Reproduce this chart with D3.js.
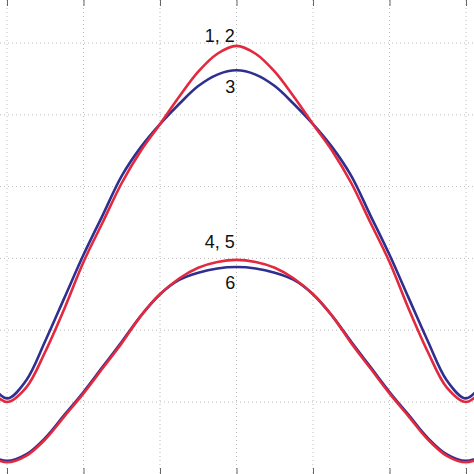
<!DOCTYPE html>
<html><head><meta charset="utf-8">
<script src="https://cdn.jsdelivr.net/npm/d3@7"></script>
<style>body{margin:0;background:#fff}</style>
</head><body>
<script>
// x positions of the read-off points (grid units)
var xs = [-0.25, 0, 0.25, 0.5, 0.75, 1, 1.25, 1.5, 1.75, 2, 2.25, 2.5, 2.75, 3,
          3.25, 3.5, 3.75, 4, 4.25, 4.5, 4.75, 5, 5.25, 5.5, 5.75, 6, 6.25];
var red12 = [0.2, 0, 0.2, 0.7, 1.3, 1.95, 2.5, 3.05, 3.5, 3.87, 4.25, 4.6, 4.85, 4.96,
             4.85, 4.6, 4.25, 3.87, 3.5, 3.05, 2.5, 1.95, 1.3, 0.7, 0.2, 0, 0.2];
var blue3 = [0.3, 0.05, 0.3, 0.85, 1.45, 2.05, 2.6, 3.15, 3.55, 3.87, 4.15, 4.4, 4.56, 4.62,
             4.56, 4.4, 4.15, 3.87, 3.55, 3.15, 2.6, 2.05, 1.45, 0.85, 0.3, 0.05, 0.3];
var red45 = [-0.75, -0.84, -0.75, -0.52, -0.2, 0.12, 0.47, 0.82, 1.2, 1.5, 1.72, 1.87, 1.95, 1.98,
             1.95, 1.87, 1.72, 1.5, 1.2, 0.82, 0.47, 0.12, -0.2, -0.52, -0.75, -0.84, -0.75];
var blue6 = [-0.73, -0.82, -0.73, -0.5, -0.18, 0.14, 0.49, 0.84, 1.2, 1.5, 1.7, 1.8, 1.86, 1.88,
             1.86, 1.8, 1.7, 1.5, 1.2, 0.84, 0.49, 0.14, -0.18, -0.5, -0.73, -0.82, -0.73];
var xGrid = [0, 1, 2, 3, 4, 5, 6];
var yGrid = [0, 1, 2, 3, 4, 5];
var labels = [
  {t: "1, 2", x: 2.78, y: 5.02},
  {t: "3", x: 2.92, y: 4.3},
  {t: "4, 5", x: 2.78, y: 2.15},
  {t: "6", x: 2.92, y: 1.57}
];

var W = 474, H = 474;
var x = d3.scaleLinear().domain([0, 6]).range([7, 466]);
var y = d3.scaleLinear().domain([0, 5]).range([402, 43]);

var svg = d3.select("body").append("svg").attr("width", W).attr("height", H);

svg.selectAll(".vg").data(xGrid).enter().append("line")
  .attr("x1", d => x(d)).attr("x2", d => x(d)).attr("y1", 0).attr("y2", H)
  .attr("stroke", "#bbb").attr("stroke-width", 1).attr("stroke-dasharray", "1,3");
svg.selectAll(".hg").data(yGrid).enter().append("line")
  .attr("y1", d => y(d)).attr("y2", d => y(d)).attr("x1", 0).attr("x2", W)
  .attr("stroke", "#bbb").attr("stroke-width", 1).attr("stroke-dasharray", "1,3");

// tick marks top and bottom
svg.append("g")
  .call(d3.axisBottom(x).tickValues(xGrid).tickSize(6).tickFormat(""))
  .call(g => g.select(".domain").remove())
  .selectAll("line").attr("stroke", "#666");
svg.append("g").attr("transform", "translate(0," + H + ")")
  .call(d3.axisTop(x).tickValues(xGrid).tickSize(6).tickFormat(""))
  .call(g => g.select(".domain").remove())
  .selectAll("line").attr("stroke", "#666");

var line = d3.line().x((d, i) => x(xs[i])).y(d => y(d)).curve(d3.curveCatmullRom);
var series = [[blue3, "#2e2f8f"], [red12, "#e2293d"], [blue6, "#2e2f8f"], [red45, "#e2293d"]];
series.forEach(function (s) {
  svg.append("path").attr("d", line(s[0])).attr("fill", "none")
    .attr("stroke", s[1]).attr("stroke-width", 2.6);
});

svg.selectAll(".lbl").data(labels).enter().append("text")
  .attr("x", d => x(d.x)).attr("y", d => y(d.y))
  .attr("text-anchor", "middle")
  .attr("font-family", "Liberation Sans, Arial, sans-serif")
  .attr("font-size", 18).attr("fill", "#111")
  .text(d => d.t);
</script>
</body></html>
